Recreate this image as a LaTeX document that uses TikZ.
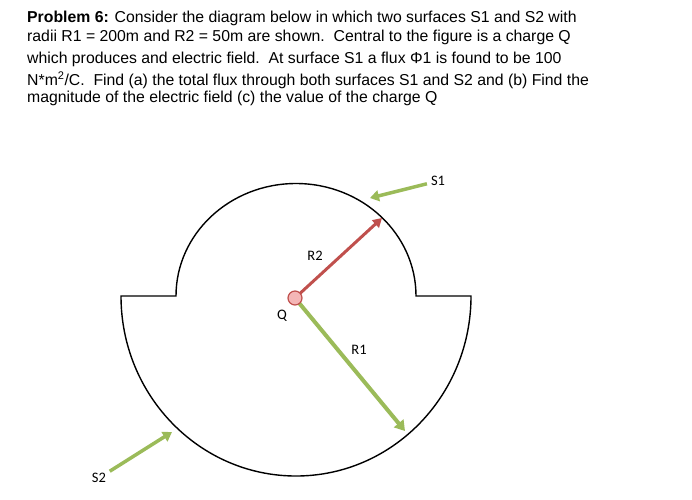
\documentclass[tikz,border=0pt]{standalone}
\usepackage{fontspec}
\setmainfont{Liberation Sans}
\newfontfamily\labelfont{Carlito}
\usetikzlibrary{arrows.meta}
\definecolor{offred}{HTML}{C0504D}
\definecolor{offgreen}{HTML}{9BBB59}
\definecolor{qpink}{HTML}{F4B6B6}

\begin{document}
\begin{tikzpicture}[x=1pt, y=-1pt,
	textline/.style={anchor=base west, inner sep=0pt, font=\fontsize{15.8}{18}\selectfont},
	tag/.style={font=\labelfont\fontsize{14.5}{16}\selectfont, inner sep=1pt},
	charge/.style={circle, draw=offred, fill=qpink, line width=1.2pt, minimum size=14pt, inner sep=0pt},
	rarrow/.style={draw=offred, line width=3pt, -{Triangle[length=9pt, width=10pt]}},
	garrow/.style={draw=offgreen, line width=4pt, -{Triangle[length=10pt, width=12pt]}},
	sarrow/.style={draw=offgreen, line width=3.5pt, shorten <=3pt, -{Triangle[length=9pt, width=11pt]}}]
	\useasboundingbox (0,0) rectangle (692,499);

	\node [textline] (line1) at (27, 22) {\textbf{Problem 6:} Consider the diagram below in which two surfaces S1 and S2 with};
	\node [textline] (line2) at (27, 41) {radii R1 = 200m and R2 = 50m are shown.\ \ Central to the figure is a charge Q};
	\node [textline] (line3) at (27, 63) {which produces and electric field.\ \ At surface S1 a flux Φ1 is found to be 100};
	\node [textline] (line4) at (27, 85) {N*m\textsuperscript{2}/C.\ \ Find (a) the total flux through both surfaces S1 and S2 and (b) Find the};
	\node [textline] (line5) at (27, 102) {magnitude of the electric field (c) the value of the charge Q};

	% the two surfaces
	\draw [line width=1.4pt] (121,296) -- (176,296)
		arc [start angle=180, end angle=0, x radius=120pt, y radius=112.5pt] -- (471,296)
		arc [start angle=0, end angle=-180, x radius=175pt, y radius=180pt] -- cycle;

	\coordinate (r2end) at (382, 218);
	\coordinate (r1end) at (405, 431);
	\draw [rarrow] (295, 298) -- (r2end);
	\draw [garrow] (295, 298) -- (r1end);
	\node [charge] (Q) at (295, 298) {};

	\node [tag] (qlabel) at (282, 316) {Q};
	\node [tag] (r2label) at (315, 256) {R2};
	\node [tag] (r1label) at (359, 350) {R1};

	\node [tag] (s1label) at (438, 181) {S1};
	\node [tag] (s2label) at (99, 478) {S2};
	\coordinate (s1tip) at (370, 198);
	\coordinate (s2tip) at (172, 432);
	\draw [sarrow] (s1label) -- (s1tip);
	\draw [sarrow] (s2label) -- (s2tip);
\end{tikzpicture}
\end{document}
